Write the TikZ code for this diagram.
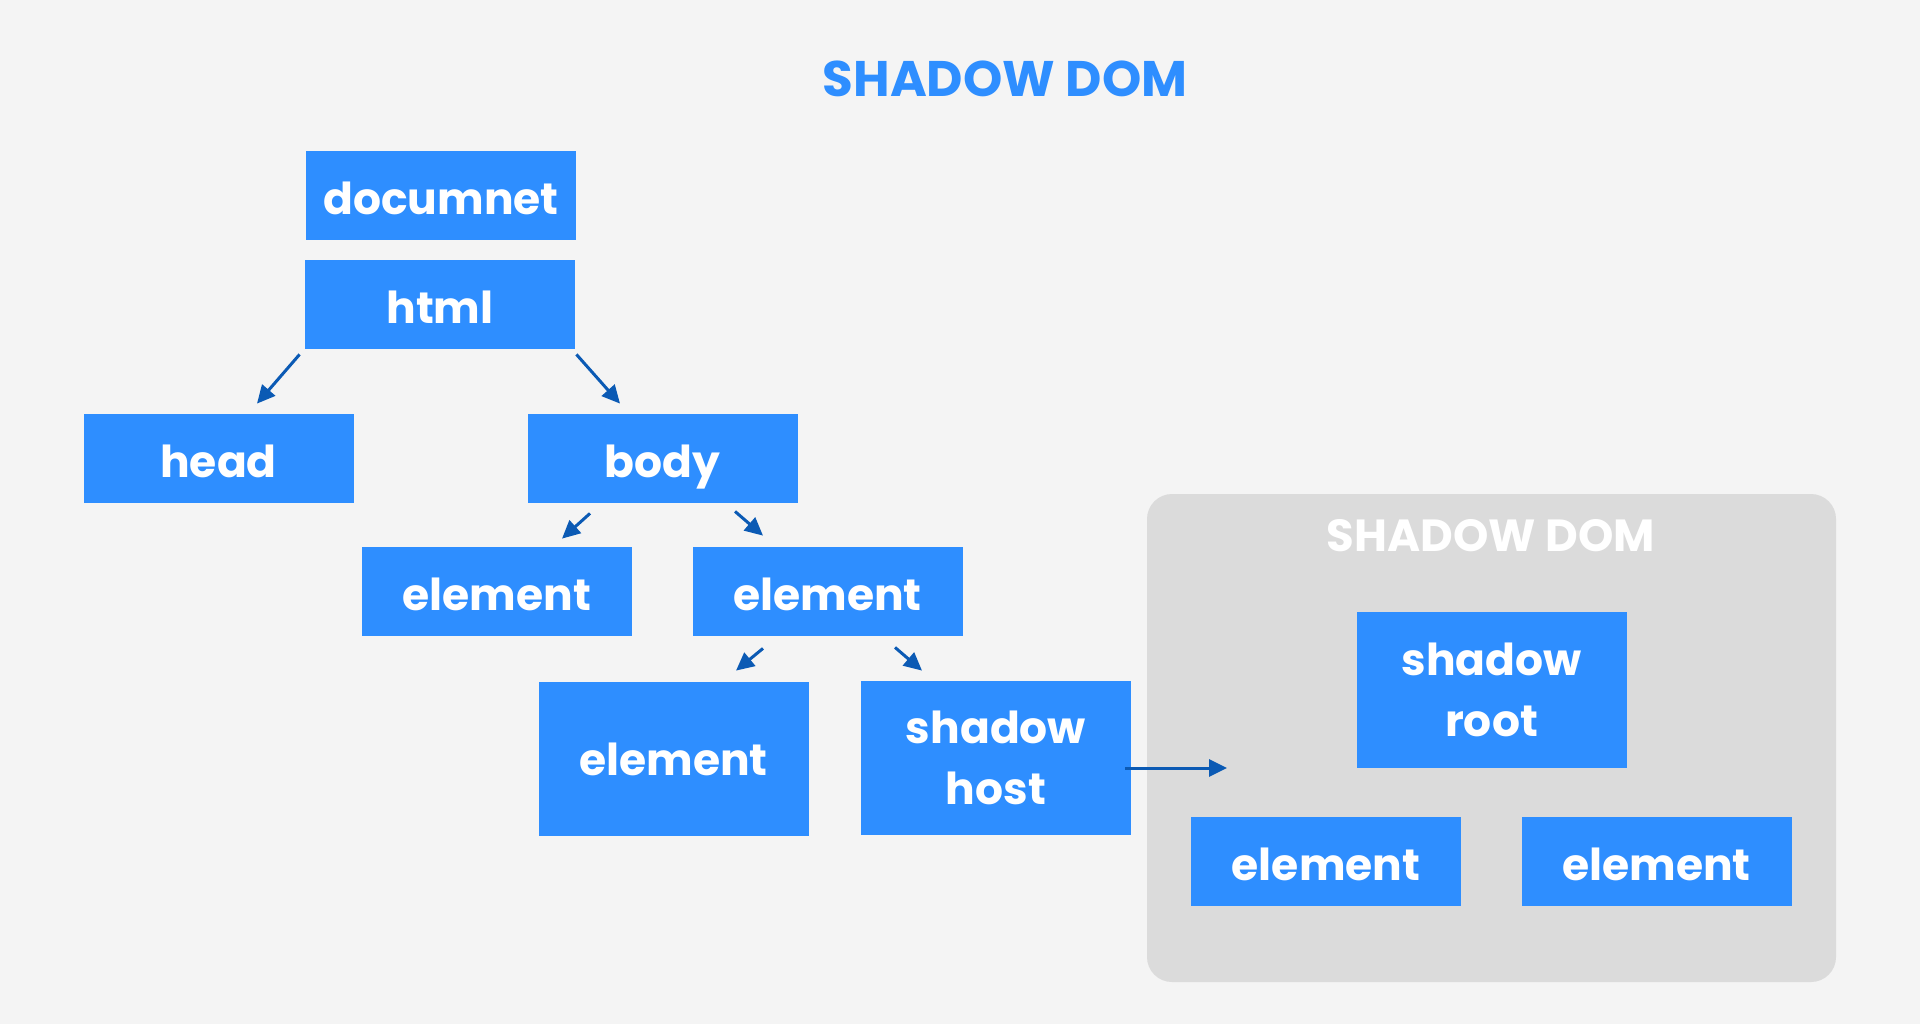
\documentclass[tikz,border=0pt]{standalone}
\usepackage{fontspec}
\setmainfont{Poppins}
\usepackage{tikz}
\usetikzlibrary{arrows.meta,calc}
\definecolor{pagebg}{HTML}{F4F4F4}
\definecolor{boxblue}{HTML}{2E8EFF}
\definecolor{arrowblue}{HTML}{0B5AB4}
\definecolor{shadowbg}{HTML}{DBDBDB}
\tikzset{
  basenode/.style = {fill=boxblue, text=white, minimum width=135pt,
    inner sep=0pt, align=center,
    font=\fontsize{22}{30.5}\selectfont\bfseries},
  domnode/.style = {basenode, minimum height=44.5pt,
    text height=19pt, text depth=0.5pt},
  tallnode/.style = {basenode, minimum height=77pt},
  arr/.style = {draw=arrowblue, line width=1.5pt,
    -{Triangle[length=9pt,width=8.5pt]}}
}

\begin{document}
\begin{tikzpicture}[x=0.5pt,y=-0.5pt]

  \fill[pagebg] (0,0) rectangle (1920,1024);
  \useasboundingbox (0,0) rectangle (1920,1024);

  \node[text=boxblue, font=\fontsize{25}{30}\selectfont\bfseries] (title) at (1005,79) {SHADOW DOM};

  \fill[shadowbg, rounded corners=12.5pt] (1147,494) rectangle (1836,982);
  \node[text=white, font=\fontsize{22.5}{28}\selectfont\bfseries] (shadowtitle) at (1491,536) {SHADOW DOM};

  \node[domnode] (docu) at (441,195.5) {documnet};
  \node[domnode] (html) at (440,304.5) {html};
  \node[domnode] (head) at (218.5,458.5) {head};
  \node[domnode] (body) at (662.5,458.5) {body};
  \node[domnode] (elA) at (497,591.5) {element};
  \node[domnode] (elB) at (827.5,591.5) {element};
  \node[tallnode] (elC) at (673.5,759) {element};
  \node[tallnode] (host) at (996,758) {shadow\\host};

  \node[tallnode, minimum height=78pt] (root) at (1491.5,690) {shadow\\root};
  \node[domnode] (elD) at (1326,861.5) {element};
  \node[domnode] (elE) at (1656.5,861.5) {element};

  \draw[arr] ([shift={(-5,5)}]html.south west) -- ([shift={(38.5,-10)}]head.north);
  \draw[arr] ([shift={(1,5)}]html.south east) -- ([shift={(-42.5,-10)}]body.north);
  \draw[arr] ([shift={(-72.5,10)}]body.south) -- ([shift={(65,-8)}]elA.north);
  \draw[arr] ([shift={(72.5,8)}]body.south) -- ([shift={(-64.5,-11)}]elB.north);
  \draw[arr] ([shift={(-64.5,12)}]elB.south) -- ([shift={(62.5,-11)}]elC.north);
  \draw[arr] ([shift={(67.5,11)}]elB.south) -- ([shift={(-74,-10)}]host.north);

  \coordinate (entry) at (1227,768);
  \draw[arr] ([shift={(-6,10)}]host.east) -- (entry);

\end{tikzpicture}
\end{document}
